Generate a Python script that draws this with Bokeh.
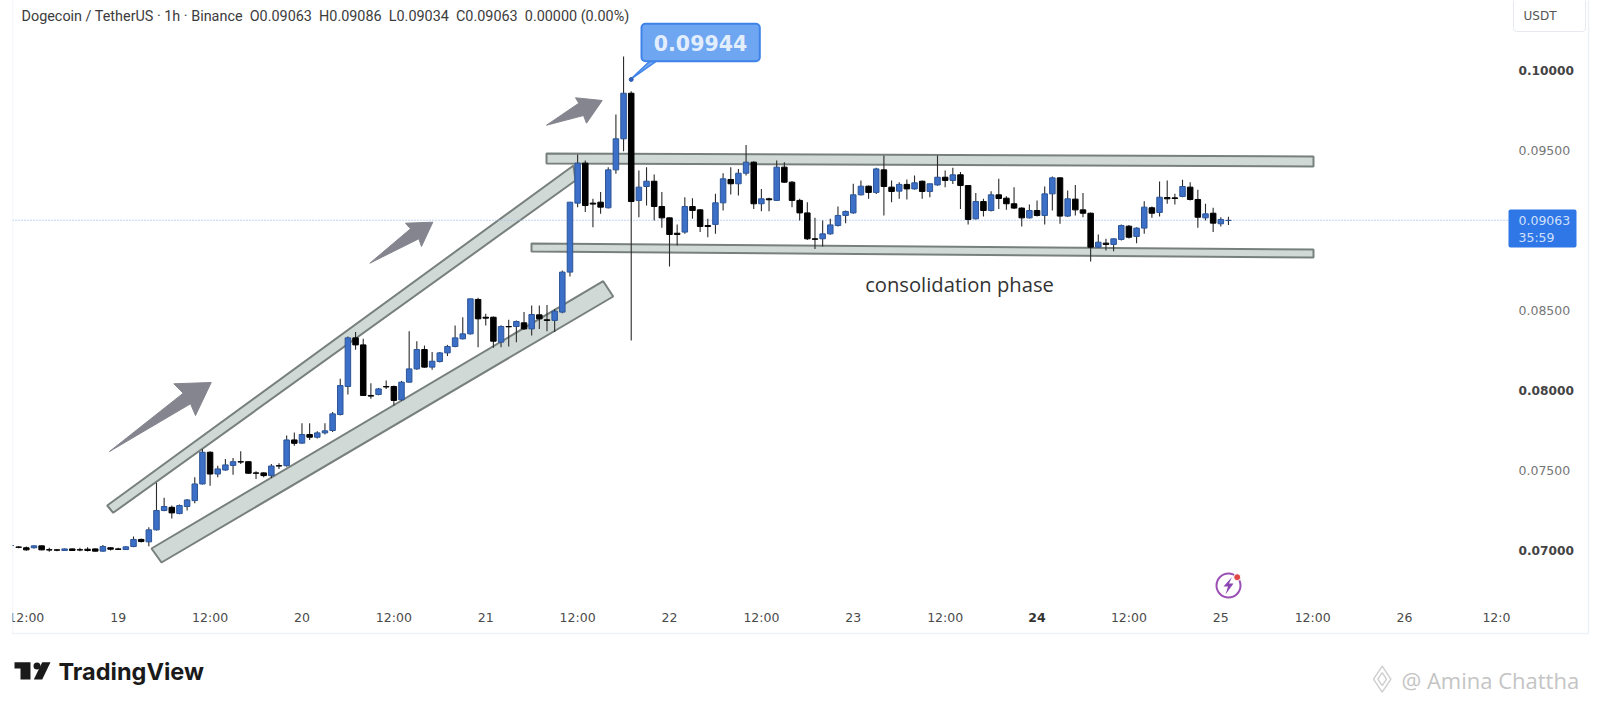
from bokeh.plotting import figure
from bokeh.embed import file_html
from bokeh.resources import INLINE
from bokeh.models import (Range1d, FixedTicker, Label, BoxAnnotation, LinearAxis, NumeralTickFormatter)
import numpy as np

# ---- data: hourly candles, hour 0 = 19th 00:00 ----
first_hour = -14
opens = [.07031,.07022,.07017,.07017,.07029,.07005,.07004,.07000,.07010,.07005,.07008,.07010,.06996,.07017,.07010,.07006,.07025,.07069,
 .07054,.07129,.07250,.07270,.07231,.07275,.07312,.07416,.07614,.07478,.07503,.07532,.07555,.07555,.07485,.07485,.07468,.07530,.07530,.07691,
 .07671,.07725,.07708,.07735,.07750,.07850,.08025,.08329,.08285,.07969,.07975,.08025,.08025,.07942,.08052,.08135,.08256,.08146,.08181,.08235,.08275,.08323,.08354,.08569,.08458,.08458,.08302,.08400,.08400,.08423,.08385,.08473,.08442,.08438,
 .08490,.08740,.09171,.09421,.09171,.09177,.09142,.09379,.09573,.09858,.09188,.09275,.09308,.09150,.09079,.08983,.08990,.09150,.09129,.09031,.09038,.09173,.09319,.09292,.09358,.09427,.09167,.09198,.09188,.09396,.09302,.09188,.09110,.08948,.08948,
 .08979,.09031,.09094,.09110,.09223,.09277,.09238,.09379,.09271,.09246,.09288,.09260,.09308,.09244,.09285,.09333,.09313,.09348,.09281,.09073,.09181,.09125,.09223,.09202,.09167,
 .09140,.09079,.09125,.09094,.09229,.09329,.09090,.09196,.09129,.09108,.08896,.08921,.08913,.08944,.09027,.08963,.09015,.09142,.09113,.09206,.09204,.09213,.09271,.09194,.09079,.09108,.09042,.09063]
highs = [.07038,.07027,.07025,.07033,.07031,.07017,.07010,.07012,.07012,.07017,.07021,.07012,.07035,.07021,.07017,.07027,.07087,.07075,
 .07146,.07424,.07329,.07281,.07287,.07322,.07458,.07634,.07620,.07530,.07572,.07578,.07620,.07557,.07495,.07489,.07541,.07545,.07718,.07738,
 .07796,.07796,.07745,.07796,.07865,.08073,.08338,.08365,.08323,.08046,.08016,.08063,.08032,.08060,.08371,.08308,.08281,.08240,.08240,.08285,.08406,.08458,.08360,.08579,.08479,.08462,.08408,.08442,.08437,.08490,.08531,.08531,.08535,.08510,
 .08750,.09177,.09475,.09438,.09198,.09240,.09396,.09725,.10088,.09870,.09375,.09396,.09350,.09240,.09082,.09038,.09208,.09202,.09135,.09073,.09229,.09358,.09396,.09385,.09535,.09433,.09260,.09205,.09438,.09427,.09310,.09198,.09177,.09079,.09063,
 .09073,.09150,.09125,.09292,.09313,.09281,.09392,.09469,.09313,.09302,.09319,.09344,.09312,.09292,.09469,.09375,.09392,.09365,.09281,.09235,.09198,.09246,.09323,.09214,.09271,
 .09145,.09163,.09188,.09275,.09338,.09333,.09250,.09285,.09235,.09112,.08975,.08948,.08952,.09038,.09034,.09020,.09183,.09150,.09306,.09313,.09229,.09317,.09302,.09254,.09167,.09142,.09083,.09086]
lows = [.07025,.07014,.06998,.07013,.07002,.06992,.06996,.06998,.06998,.06996,.06994,.06994,.06992,.07000,.07004,.07004,.07021,.07050,
 .07027,.07125,.07245,.07200,.07227,.07250,.07295,.07412,.07404,.07458,.07499,.07474,.07541,.07478,.07447,.07458,.07453,.07510,.07524,.07655,
 .07667,.07690,.07700,.07725,.07740,.07844,.07975,.08254,.07965,.07948,.07970,.08010,.07906,.07935,.08048,.08129,.08142,.08129,.08175,.08215,.08270,.08318,.08350,.08271,.08406,.08267,.08271,.08275,.08302,.08378,.08344,.08385,.08371,.08365,
 .08483,.08713,.09146,.09115,.09021,.09104,.09137,.09354,.09496,.08313,.09083,.09156,.09063,.09017,.08775,.08906,.08980,.09073,.08990,.08958,.08979,.09125,.09225,.09219,.09344,.09135,.09121,.09121,.09185,.09298,.09146,.09063,.08940,.08885,.08900,
 .08973,.09025,.09046,.09105,.09219,.09198,.09228,.09094,.09177,.09198,.09194,.09255,.09198,.09208,.09280,.09271,.09290,.09135,.09038,.09069,.09088,.09118,.09135,.09129,.09135,
 .09025,.09075,.09088,.09038,.09125,.09042,.09085,.09094,.09083,.08806,.08892,.08875,.08871,.08938,.08950,.08921,.08979,.09079,.09088,.09167,.09163,.09208,.09188,.09017,.09063,.08990,.09025,.09034]
closes = [.07031,.07020,.07004,.07029,.07004,.07003,.07002,.07010,.07000,.07003,.07000,.06996,.07025,.07008,.07007,.07023,.07069,.07056,
 .07129,.07250,.07275,.07235,.07281,.07316,.07416,.07614,.07478,.07510,.07535,.07555,.07553,.07483,.07483,.07468,.07528,.07528,.07691,.07670,
 .07725,.07708,.07735,.07748,.07854,.08031,.08329,.08285,.07969,.07965,.08010,.08022,.07938,.08052,.08135,.08256,.08146,.08183,.08235,.08275,.08329,.08354,.08573,.08448,.08452,.08308,.08400,.08398,.08431,.08385,.08475,.08448,.08438,.08496,
 .08740,.09177,.09421,.09156,.09165,.09146,.09379,.09573,.09858,.09181,.09271,.09308,.09150,.09079,.08975,.08975,.09150,.09125,.09025,.09025,.09173,.09323,.09292,.09358,.09427,.09167,.09198,.09192,.09396,.09302,.09188,.09110,.08948,.08945,.08979,
 .09035,.09094,.09119,.09223,.09277,.09238,.09385,.09275,.09244,.09288,.09260,.09298,.09244,.09292,.09333,.09313,.09348,.09281,.09069,.09181,.09125,.09223,.09200,.09167,.09140,
 .09079,.09125,.09094,.09229,.09329,.09090,.09198,.09129,.09108,.08896,.08927,.08913,.08948,.09031,.08958,.09015,.09146,.09108,.09208,.09198,.09200,.09275,.09194,.09083,.09104,.09046,.09069,.09063]

y_ticks_regular = [0.095, 0.085, 0.075]
y_ticks_bold = [0.100, 0.080, 0.070]
x_ticks = [-12, 0, 12, 24, 36, 48, 60, 72, 84, 96, 108, 132, 144, 156, 168, 180]
x_tick_labels = ["12:00", "19", "12:00", "20", "12:00", "21", "12:00", "22", "12:00", "23", "12:00", "12:00", "25", "12:00", "26", "12:0"]
x_ticks_bold = [120]
x_tick_labels_bold = ["24"]
title_text = "Dogecoin / TetherUS \u00b7 1h \u00b7 Binance\u00a0\u00a0O0.09063\u00a0\u00a0H0.09086\u00a0\u00a0L0.09034\u00a0\u00a0C0.09063\u00a0\u00a00.00000 (0.00%)"
last_price = 0.09063
peak_price = 0.09944

# ---- page-pixel helpers for the drawn annotations ----
def X(px): return (px - 117.7) / 7.657
def Y(py): return 0.07 + (550 - py) / 16000

n = min(len(opens), len(highs), len(lows), len(closes))
opens, highs, lows, closes = [np.array(a[:n]) for a in (opens, highs, lows, closes)]
hours = first_hour + np.arange(n)

p = figure(width=1600, height=704, output_backend="svg", toolbar_location=None,
           x_range=Range1d(X(0), X(1600)), y_range=Range1d(Y(704), Y(0)),
           y_axis_location="right", min_border=0, outline_line_color=None,
           background_fill_color="white", border_fill_color="white")
p.grid.visible = False

FONT = "DejaVu Sans"
def style_time_axis(a, ticks, labels, color, style, standoff):
    a.fixed_location = Y(596)
    a.ticker = FixedTicker(ticks=ticks)
    a.major_label_overrides = {t: s for t, s in zip(ticks, labels)}
    a.axis_line_color = None
    a.major_tick_line_color = None
    a.minor_tick_line_color = None
    a.major_label_standoff = standoff
    a.major_label_text_font = FONT
    a.major_label_text_font_size = "12.5px"
    a.major_label_text_font_style = style
    a.major_label_text_color = color

style_time_axis(p.xaxis[0], x_ticks, x_tick_labels, "#4a4a4a", "normal", 7)
bold_time_axis = LinearAxis()
style_time_axis(bold_time_axis, x_ticks_bold, x_tick_labels_bold, "#333333", "bold", 10)
p.add_layout(bold_time_axis, "below")

def style_price_axis(a, ticks, color, style, size):
    a.fixed_location = X(1507)
    a.ticker = FixedTicker(ticks=ticks)
    a.formatter = NumeralTickFormatter(format="0.00000")
    a.axis_line_color = None
    a.major_tick_line_color = None
    a.minor_tick_line_color = None
    a.major_label_standoff = 5
    a.major_label_text_font = FONT
    a.major_label_text_font_size = size
    a.major_label_text_font_style = style
    a.major_label_text_color = color

style_price_axis(p.yaxis[0], y_ticks_regular, "#767676", "normal", "12.5px")
bold_axis = LinearAxis()
style_price_axis(bold_axis, y_ticks_bold, "#444444", "bold", "12.2px")
p.add_layout(bold_axis, "right")

# panel frame
p.add_layout(BoxAnnotation(left=X(12), right=X(1588), top=Y(-4), bottom=Y(633), fill_alpha=0,
                           line_color="#eef1f6", line_alpha=1, line_width=1.5, level="underlay"))

# consolidation / channel bands
BAND_FILL, BAND_LINE = "#d0d9d6", "#78807d"
bands = [
    [(106.7, 505), (112.7, 512.3), (575, 180), (573, 165)],
    [(151, 548), (161, 562), (612.7, 296), (602.7, 280.7)],
    [(546, 153), (546, 163), (1313, 166), (1313, 156)],
    [(531, 243), (531, 251), (1313, 257), (1313, 249)],
]
p.patches([[X(a) for a, b in s] for s in bands], [[Y(b) for a, b in s] for s in bands],
          fill_color=BAND_FILL, line_color=BAND_LINE, line_width=2)

# gray arrows
arrows = [
    [(109, 451), (182.7, 392.7), (173.3, 383.3), (210.7, 382), (195, 415), (190, 403.3)],
    [(369.3, 262.7), (410, 228.3), (405, 222.7), (432.3, 221.7), (421, 246), (418.3, 238.3)],
    [(546, 124.7), (578.3, 102.7), (575, 97.3), (601.7, 100), (586, 122.7), (583, 115)],
]
p.patches([[X(a) for a, b in s] for s in arrows], [[Y(b) for a, b in s] for s in arrows],
          fill_color="#85858f", line_color="#85858f", line_width=1)

# last price line
p.segment([X(12)], [last_price], [X(1507)], [last_price], line_color="#9dbdf0", line_dash="1 2", line_width=1.2)

# candles
up = closes >= opens
p.segment(hours, highs, hours, lows, line_color="#2b2b2b", line_width=1.1)
p.vbar(hours[up], 0.72, opens[up], closes[up], fill_color="#3b6fc8", line_color="#2d5596", line_width=1)
p.vbar(hours[~up], 0.72, closes[~up], opens[~up], fill_color="#000000", line_color="#000000", line_width=1)

# callout
p.patch([X(650), X(657), X(630.7)], [Y(60), Y(60), Y(78.3)], fill_color="#6ea6f2", line_color="#3f83e8", line_width=1.5)
p.add_layout(BoxAnnotation(left=X(641), right=X(759.3), top=Y(23.3), bottom=Y(60.7), fill_color="#6ea6f2",
                           fill_alpha=1, line_color="#3f83e8", line_alpha=1, line_width=2, border_radius=4, level="annotation"))
p.scatter([X(630.7)], [peak_price], size=4, fill_color="#2f5fb5", line_color="#2f5fb5")
p.add_layout(Label(x=X(700), y=Y(42), text="0.09944", text_align="center", text_baseline="middle",
                   text_font=FONT, text_font_style="bold", text_font_size="20.5px", text_color="#e3eefc", level="overlay"))

p.add_layout(Label(x=X(959), y=Y(283), text="consolidation phase", text_align="center", text_baseline="middle",
                   text_font="Open Sans", text_font_size="20.2px", text_color="#333333"))

# lightning icon
p.scatter([X(1228)], [Y(585)], size=24, fill_alpha=0, line_color="#9a4fb5", line_width=2)
p.patch([X(a) for a in (1231.5, 1223, 1227.5, 1225, 1233, 1228.5)], [Y(b) for b in (576.5, 586, 586, 594, 583, 583)],
        fill_color="#8a45b0", line_color=None)
p.scatter([X(1236.7)], [Y(576.7)], size=7, fill_color="#e04848", line_color="white", line_width=1)

# title
p.add_layout(Label(x=X(21), y=Y(15.5), text=title_text, text_align="left", text_baseline="middle",
                   text_font="Roboto", text_font_size="14.4px", text_color="#3c3c3c"))

# price scale extras
p.add_layout(BoxAnnotation(left=X(1513), right=X(1585), top=Y(-2), bottom=Y(31), fill_color="white", fill_alpha=1,
                           line_color="#e6e9ef", line_alpha=1, line_width=1, border_radius=3))
p.add_layout(Label(x=X(1523), y=Y(15.5), text="USDT", text_align="left", text_baseline="middle",
                   text_font=FONT, text_font_size="12px", text_color="#555555"))
p.add_layout(BoxAnnotation(left=X(1508), right=X(1576), top=Y(209), bottom=Y(247), fill_color="#2f76e6", fill_alpha=1,
                           line_alpha=0, border_radius=2))
p.add_layout(Label(x=X(1518), y=Y(220), text=f"{last_price:.5f}", text_align="left", text_baseline="middle",
                   text_font=FONT, text_font_size="12.5px", text_color="#cfe0fb"))
p.add_layout(Label(x=X(1518), y=Y(237), text="35:59", text_align="left", text_baseline="middle",
                   text_font=FONT, text_font_size="12.5px", text_color="#cfe0fb"))

# clipped left edge of the chart pane
p.add_layout(BoxAnnotation(left=X(-2), right=X(12), top=Y(-2), bottom=Y(632), fill_color="white", fill_alpha=1,
                           line_alpha=0, level="overlay"))

# TradingView logo + wordmark
LOGO = "#1a1a1a"
logo_parts = [
    [(14, 661.7), (30, 661.7), (30, 679), (20, 679), (20, 668), (14, 668)],
    [(50, 661.7), (41.7, 661.7), (33.3, 679), (41.7, 679)],
]
p.patches([[X(a) for a, b in s] for s in logo_parts], [[Y(b) for a, b in s] for s in logo_parts],
          fill_color=LOGO, line_color=None)
p.scatter([X(36.5)], [Y(665.5)], size=7, fill_color=LOGO, line_color=None)
p.add_layout(Label(x=X(58), y=Y(671), text="TradingView", text_align="left", text_baseline="middle",
                   text_font="Inter", text_font_style="bold", text_font_size="23.5px", text_color=LOGO))

# watermark
WM = "#cfcfcf"
p.scatter([X(1381.7)] * 2, [Y(678.7)] * 2, marker="diamond", size=[26, 13], fill_alpha=0, line_color=WM, line_width=1.5)
p.add_layout(Label(x=X(1401), y=Y(679), text="@ Amina Chattha", text_align="left", text_baseline="middle",
                   text_font="Open Sans", text_font_size="22px", text_color="#c4c4c4"))

open("out.html", "w").write(file_html(p, INLINE))
